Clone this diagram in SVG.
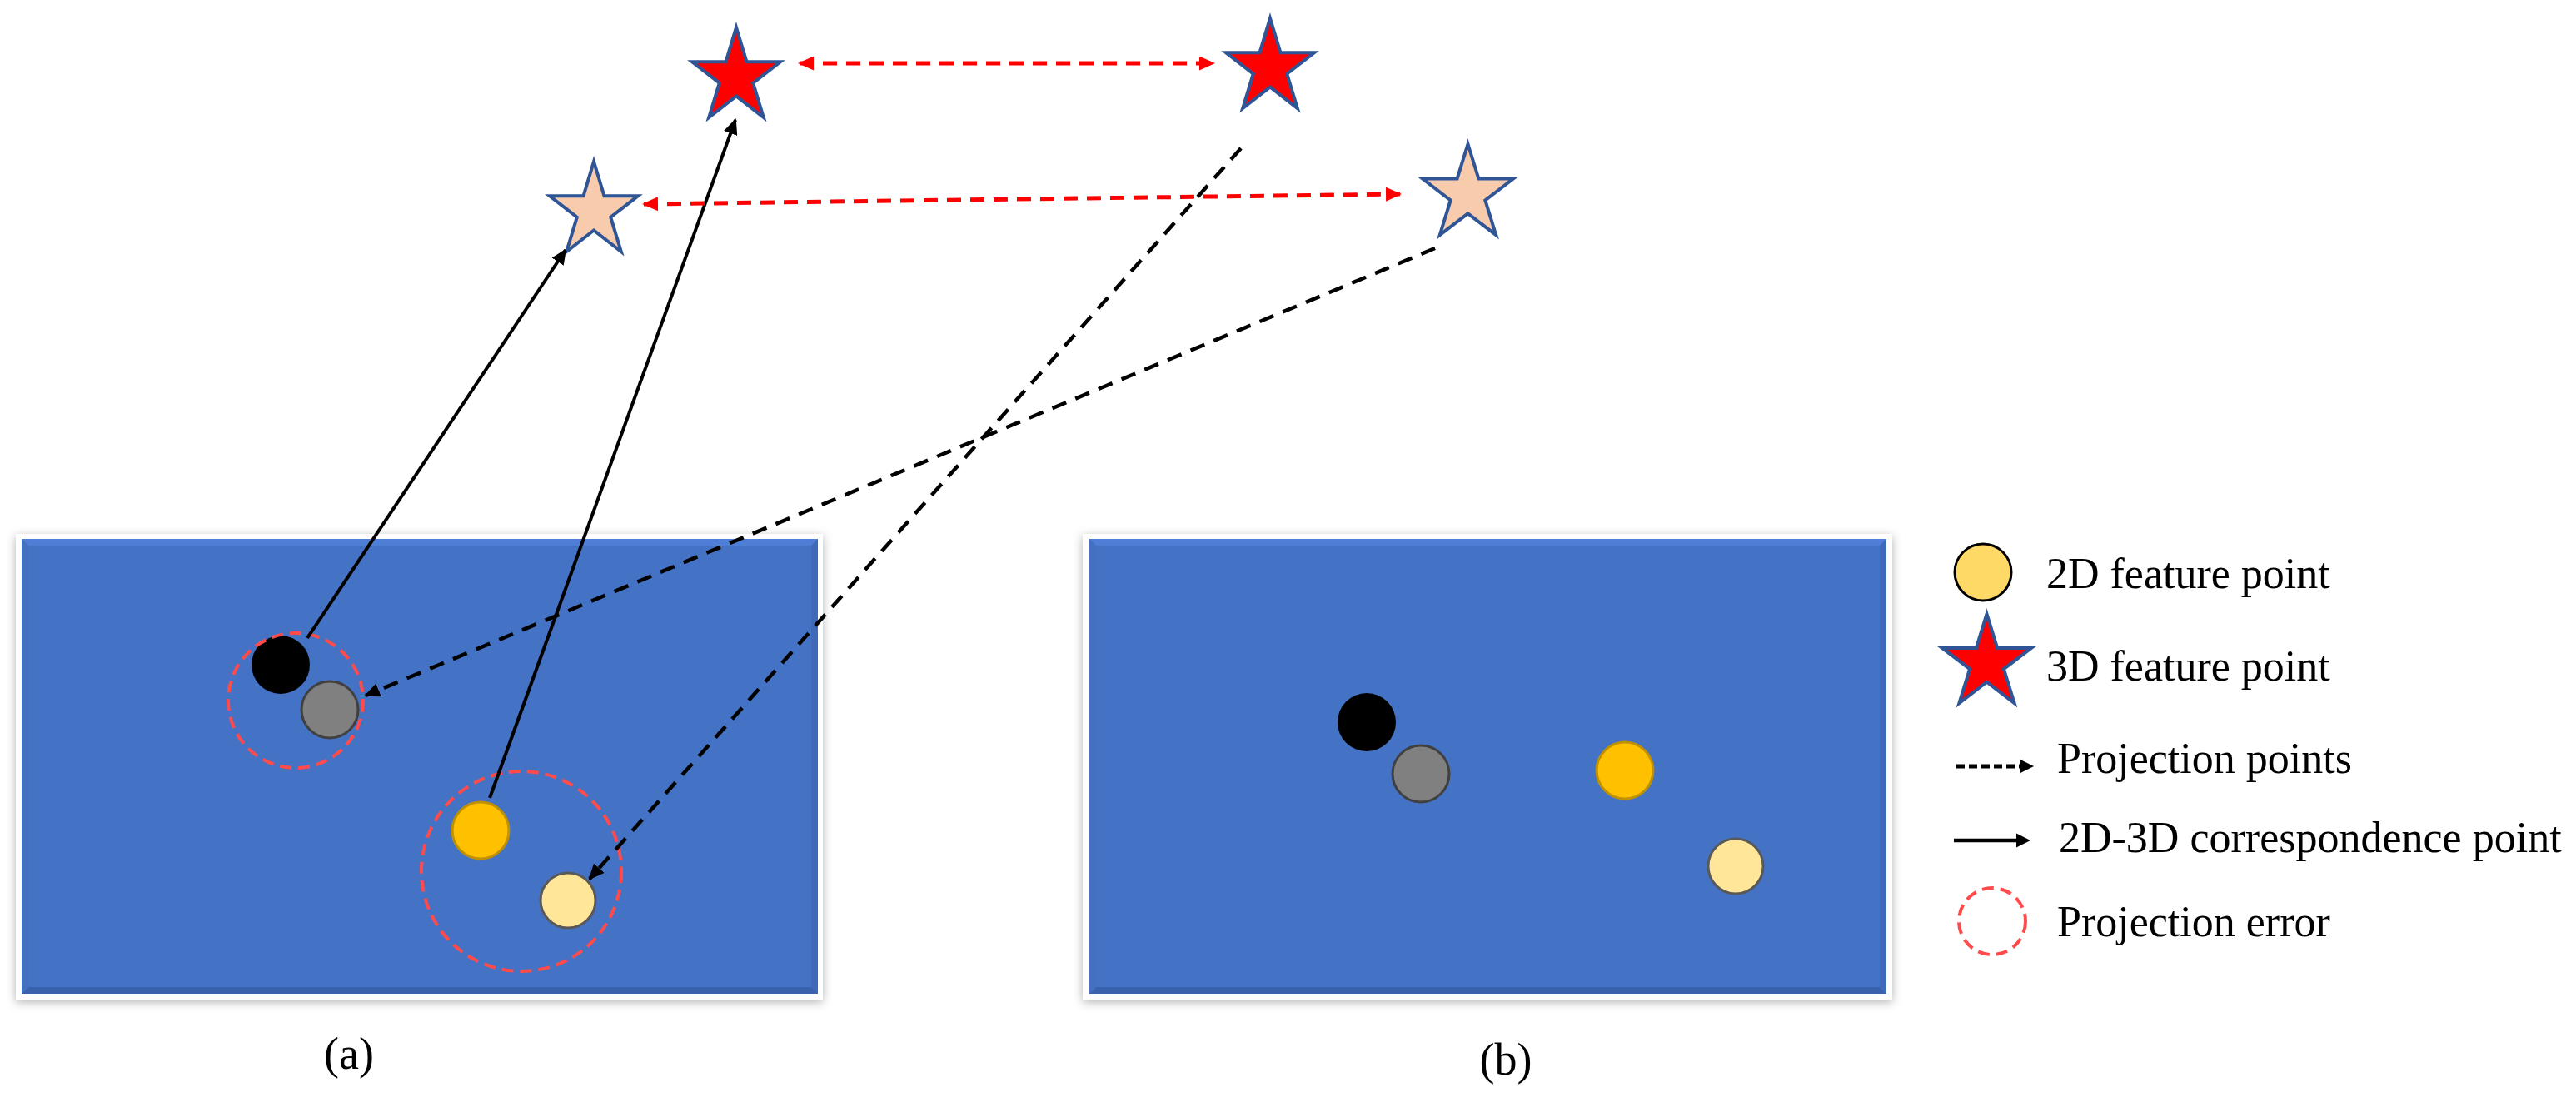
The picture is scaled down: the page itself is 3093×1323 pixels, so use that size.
<svg xmlns="http://www.w3.org/2000/svg" width="3093" height="1323" viewBox="0 0 3093 1323">
<style>
.frame{fill:#ffffff;filter:url(#sh)}
.blue{fill:#4472C4}
.bt{fill:#4E7ED6}
.bb{fill:#3A62AC}
.bl{fill:#4370C0}
.br{fill:#3F6AB8}
.star3d{fill:#FF0000;stroke:#2F5597;stroke-width:4;stroke-linejoin:miter}
.starp{fill:#F8CBAD;stroke:#2F5597;stroke-width:4;stroke-linejoin:miter}
.blk{fill:#000000}
.gry{fill:#808080;stroke:#404040;stroke-width:3}
.yel{fill:#FFC000;stroke:#BF9000;stroke-width:3}
.lyel{fill:#FFE699;stroke:#595959;stroke-width:3}
.err{fill:none;stroke:#FF4B4B;stroke-width:4;stroke-dasharray:14 8}
.solid{fill:none;stroke:#000;stroke-width:4;marker-end:url(#ah)}
.dash{fill:none;stroke:#000;stroke-width:4.5;stroke-dasharray:18 12;marker-end:url(#ah)}
.rdash{fill:none;stroke:#FF0000;stroke-width:5;stroke-dasharray:17 11;marker-start:url(#rh);marker-end:url(#rh)}
.lbl{font-family:"Liberation Serif","Times New Roman",serif;font-size:52px;fill:#000}
.cap{font-family:"Liberation Serif","Times New Roman",serif;font-size:54px;fill:#000;text-anchor:middle}
</style>
<defs>
<filter id="sh" x="-5%" y="-5%" width="110%" height="112%">
<feDropShadow dx="0" dy="3" stdDeviation="6" flood-color="#000" flood-opacity="0.3"/>
</filter>
<marker id="ah" viewBox="0 0 19 17" refX="17" refY="8.5" markerWidth="19" markerHeight="17" markerUnits="userSpaceOnUse" orient="auto">
<path d="M0,0 L19,8.5 L0,17 z" fill="#000"/>
</marker>
<marker id="rh" viewBox="0 0 19 17" refX="17" refY="8.5" markerWidth="19" markerHeight="17" markerUnits="userSpaceOnUse" orient="auto-start-reverse">
<path d="M0,0 L19,8.5 L0,17 z" fill="#FF0000"/>
</marker>
</defs>
<rect width="3093" height="1323" fill="#ffffff"/>

<g id="panel-a">
<rect class="frame" x="19" y="641" width="969" height="559"/>
<rect class="blue" x="26" y="647" width="956" height="546"/>
<polygon class="bt" points="26,647 982,647 974,655 34,655"/>
<polygon class="bb" points="26,1193 982,1193 974,1185 34,1185"/>
<polygon class="bl" points="26,647 34,655 34,1185 26,1193"/>
<polygon class="br" points="982,647 974,655 974,1185 982,1193"/>
</g>
<g id="panel-b">
<rect class="frame" x="1300" y="641" width="972" height="559"/>
<rect class="blue" x="1308" y="647" width="957" height="546"/>
<polygon class="bt" points="1308,647 2265,647 2257,655 1316,655"/>
<polygon class="bb" points="1308,1193 2265,1193 2257,1185 1316,1185"/>
<polygon class="bl" points="1308,647 1316,655 1316,1185 1308,1193"/>
<polygon class="br" points="2265,647 2257,655 2257,1185 2265,1193"/>
</g>

<g id="a-black"><circle class="blk" cx="337" cy="798" r="35"/></g>
<g id="a-gray"><circle class="gry" cx="396" cy="852" r="34"/></g>
<g id="a-yellow"><circle class="yel" cx="577" cy="997" r="34"/></g>
<g id="a-lightyellow"><circle class="lyel" cx="682" cy="1081" r="33"/></g>
<g id="a-error1"><circle class="err" cx="355" cy="841" r="81"/></g>
<g id="a-error2"><circle class="err" cx="626" cy="1046" r="120"/></g>

<g id="b-black"><circle class="blk" cx="1641" cy="867" r="35"/></g>
<g id="b-gray"><circle class="gry" cx="1706" cy="929" r="34"/></g>
<g id="b-yellow"><circle class="yel" cx="1951" cy="925" r="34"/></g>
<g id="b-lightyellow"><circle class="lyel" cx="2084" cy="1040" r="33"/></g>

<g id="star-3d-1"><polygon class="star3d" points="884,33 896.5,74.3 937,74.3 904.2,99.7 916.8,141 884,115.5 851.2,141 863.8,99.7 831,74.3 871.5,74.3"/></g>
<g id="star-3d-2"><polygon class="star3d" points="1525,22 1537.5,63.3 1578,63.3 1545.2,88.7 1557.8,130 1525,104.5 1492.2,130 1504.8,88.7 1472,63.3 1512.5,63.3"/></g>
<g id="star-p-1"><polygon class="starp" points="713,194 725.5,235.3 766,235.3 733.2,260.7 745.8,302 713,276.5 680.2,302 692.8,260.7 660,235.3 700.5,235.3"/></g>
<g id="star-p-2"><polygon class="starp" points="1762.5,173 1775.4,214.6 1817,214.6 1783.3,240.4 1796.2,282 1762.5,256.3 1728.8,282 1741.7,240.4 1708,214.6 1749.6,214.6"/></g>

<g id="connectors">
<line class="solid" x1="369" y1="766" x2="679" y2="300"/>
<line class="solid" x1="588" y1="958" x2="883" y2="144"/>
<line class="dash" x1="1490" y1="178" x2="708" y2="1055"/>
<line class="dash" x1="1723" y1="298" x2="439" y2="835"/>
<line class="rdash" x1="960" y1="76" x2="1457" y2="76"/>
<line class="rdash" x1="773" y1="245" x2="1681" y2="233"/>
</g>

<g id="legend">
<g id="legend-2d"><circle cx="2381" cy="687" r="34" fill="#FFD966" stroke="#000" stroke-width="3"/>
<text class="lbl" x="2457" y="706">2D feature point</text></g>
<g id="legend-3d"><polygon class="star3d" points="2385.5,737 2398.1,777.9 2439,777.9 2405.9,803.1 2418.6,844 2385.5,818.7 2352.4,844 2365.1,803.1 2332,777.9 2372.9,777.9"/>
<text class="lbl" x="2457" y="817">3D feature point</text></g>
<g id="legend-proj"><line x1="2349" y1="920" x2="2428" y2="920" stroke="#000" stroke-width="5" stroke-dasharray="10 5"/>
<path d="M2425,911.5 L2442,920 L2425,928.5 z" fill="#000"/>
<text class="lbl" x="2470" y="928">Projection points</text></g>
<g id="legend-corr"><line x1="2346" y1="1009" x2="2424" y2="1009" stroke="#000" stroke-width="4.5"/>
<path d="M2421,1000.5 L2438,1009 L2421,1017.5 z" fill="#000"/>
<text class="lbl" x="2472" y="1023">2D-3D correspondence point</text></g>
<g id="legend-err"><circle class="err" cx="2392" cy="1106" r="40"/>
<text class="lbl" x="2470" y="1124">Projection error</text></g>
</g>

<text class="cap" x="419" y="1283">(a)</text>
<text class="cap" x="1808" y="1290">(b)</text>
</svg>
